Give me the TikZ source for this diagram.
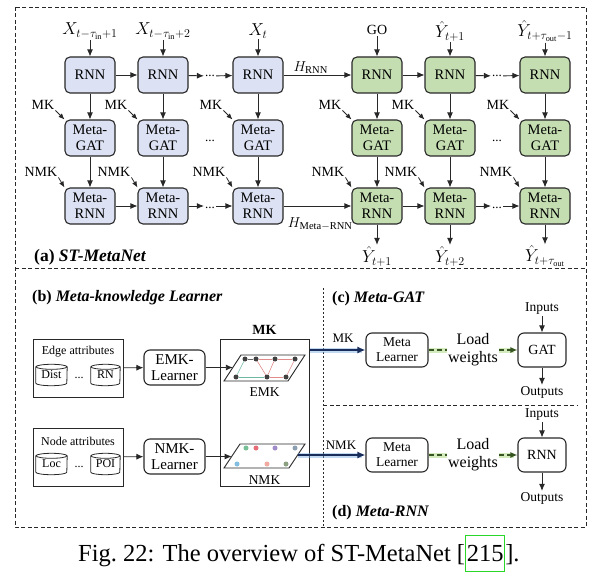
\documentclass[tikz,border=0pt]{standalone}
\usepackage{fontspec}
\setmainfont{Liberation Serif}
\usetikzlibrary{arrows.meta,calc,positioning}
\definecolor{blfill}{RGB}{220,226,243}
\definecolor{grfill}{RGB}{196,222,178}
\definecolor{bord}{RGB}{40,40,40}
\definecolor{navy}{RGB}{25,45,90}
\definecolor{glowb}{RGB}{120,170,225}
\definecolor{glowg}{RGB}{175,218,135}
\definecolor{gdashc}{RGB}{55,85,35}
\definecolor{capgreen}{RGB}{40,215,40}
\definecolor{pinkE}{RGB}{225,140,140}
\definecolor{tealE}{RGB}{110,185,165}
\definecolor{nc1}{RGB}{120,190,150}
\definecolor{nc2}{RGB}{230,110,120}
\definecolor{nc3}{RGB}{160,140,200}
\definecolor{nc4}{RGB}{140,160,180}
\definecolor{nc5}{RGB}{130,190,225}
\definecolor{nc6}{RGB}{240,170,160}
\definecolor{nc7}{RGB}{140,160,130}
\newcommand{\fsz}[2]{\fontsize{#1}{#2}\selectfont}
\newcommand{\drawcyl}[4]{%
  \node[cyltext, minimum width=#3pt] (#1) at (#2) {#4};
  \draw[cylline] (#1.north west) -- (#1.south west)
     arc[start angle=180, end angle=360, x radius=#3pt/2, y radius=2.5pt]
     -- (#1.north east);
  \draw[cylline] (#1.north) ellipse[x radius=#3pt/2, y radius=2.5pt];
}
\begin{document}
\begin{tikzpicture}[x=1pt,y=-1pt,
  cell/.style={draw=bord, line width=1.1pt, rounded corners=5pt, minimum width=50pt,
     minimum height=36pt, inner sep=0pt, align=center, font=\fsz{14.5}{16}},
  bcell/.style={cell, fill=blfill},
  gcell/.style={cell, fill=grfill},
  arr/.style={-{Latex[length=7pt,width=6pt]}, line width=0.9pt, draw=bord},
  sarr/.style={-{Latex[length=6pt,width=5pt]}, line width=0.8pt, draw=bord},
  lbl/.style={inner sep=1pt, font=\fsz{14}{16}},
  mlbl/.style={inner sep=1pt, font=\fsz{16.5}{18}},
  dotsn/.style={inner sep=1pt, font=\fsz{13}{14}},
  ttl/.style={inner sep=0pt, font=\fsz{16}{18}},
  frame/.style={line width=0.8pt, draw=bord, dash pattern=on 4pt off 2.5pt},
  attrbox/.style={draw=bord, line width=1pt, minimum width=90pt, minimum height=58pt, inner sep=0pt},
  small/.style={inner sep=1pt, font=\fsz{12}{13}},
  cyltext/.style={inner sep=0pt, minimum height=16pt, font=\fsz{12}{13}},
  cylline/.style={draw=bord, line width=0.8pt},
  lrn/.style={draw=bord, line width=1.1pt, rounded corners=6pt, minimum width=61pt,
     minimum height=35pt, inner sep=0pt, align=center, font=\fsz{15}{16}},
  mlb/.style={draw=bord, line width=1.1pt, rounded corners=6pt, minimum width=62pt,
     minimum height=34pt, inner sep=0pt, align=center, font=\fsz{13.5}{15}},
  cell2/.style={draw=bord, line width=1.1pt, rounded corners=6pt, minimum width=48pt,
     minimum height=34pt, inner sep=0pt, font=\fsz{14}{15}},
  lw/.style={inner sep=1pt, align=center, font=\fsz{16}{18}},
  io/.style={inner sep=1pt, font=\fsz{13.5}{15}},
  glowline/.style={line width=5pt, draw=glowb, opacity=0.45, shorten >=3pt},
  bluearr/.style={line width=1.6pt, draw=navy, -{Latex[length=8pt,width=7pt]}},
  gglow/.style={line width=5pt, draw=glowg, opacity=0.55},
  gdashl/.style={line width=1.3pt, draw=gdashc, dash pattern=on 5pt off 3pt},
  para/.style={draw=bord, line width=0.9pt, fill=white},
  edot/.style={circle, fill=#1, inner sep=0pt, minimum size=5pt},
  capt/.style={inner sep=0pt, font=\fsz{24.5}{26}}
]
\useasboundingbox (0,0) rectangle (600,580);

% ---------- frames ----------
\draw[frame] (15,7) rectangle (586,527);
\draw[frame] (15,268) -- (586,268);
\draw[line width=0.7pt, draw=bord, dash pattern=on 2pt off 2pt] (323,288) -- (323,527);
\draw[frame] (323,405) -- (578,405);

% ---------- (a) ST-MetaNet ----------
\node[bcell] (r1) at (90,75) {RNN};
\node[bcell] (r2) at (163,75) {RNN};
\node[bcell] (r3) at (258,75) {RNN};
\node[gcell] (r4) at (377,75) {RNN};
\node[gcell] (r5) at (450,75) {RNN};
\node[gcell] (r6) at (545,75) {RNN};
\node[bcell] (g1) at (90,138) {Meta-\\GAT};
\node[bcell] (g2) at (163,138) {Meta-\\GAT};
\node[bcell] (g3) at (258,138) {Meta-\\GAT};
\node[gcell] (g4) at (377,138) {Meta-\\GAT};
\node[gcell] (g5) at (450,138) {Meta-\\GAT};
\node[gcell] (g6) at (545,138) {Meta-\\GAT};
\node[bcell] (m1) at (90,206) {Meta-\\RNN};
\node[bcell] (m2) at (163,206) {Meta-\\RNN};
\node[bcell] (m3) at (258,206) {Meta-\\RNN};
\node[gcell] (m4) at (377,206) {Meta-\\RNN};
\node[gcell] (m5) at (450,206) {Meta-\\RNN};
\node[gcell] (m6) at (545,206) {Meta-\\RNN};

\node[dotsn] (d1) at (210,76) {...};
\node[dotsn] (d2) at (210,141) {...};
\node[dotsn] (d3) at (210,208) {...};
\node[dotsn] (d4) at (497,76) {...};
\node[dotsn] (d5) at (497,141) {...};
\node[dotsn] (d6) at (497,208) {...};

% inputs
\node[mlbl] (in1) at (90,31) {$X_{t-\tau_{\mathrm{in}}+1}$};
\node[mlbl] (in2) at (163,31) {$X_{t-\tau_{\mathrm{in}}+2}$};
\node[mlbl] (in3) at (258,31) {$X_{t}$};
\node[lbl] (in4) at (377,30) {GO};
\node[mlbl] (in5) at (450,31) {$\hat{Y}_{t+1}$};
\node[mlbl] (in6) at (545,31) {$\hat{Y}_{t+\tau_{\mathrm{out}}-1}$};
\foreach \i in {1,...,6} {\draw[arr] (in\i) -- (r\i);}

% outputs
\node[mlbl] (o4) at (377,256) {$\hat{Y}_{t+1}$};
\node[mlbl] (o5) at (450,256) {$\hat{Y}_{t+2}$};
\node[mlbl] (o6) at (545,256) {$\hat{Y}_{t+\tau_{\mathrm{out}}}$};
\foreach \i in {4,5,6} {\draw[arr] (m\i) -- (o\i);}

% vertical arrows
\foreach \i in {1,...,6} {
  \draw[arr] (r\i) -- (g\i);
  \draw[arr] (g\i) -- (m\i);
}
% horizontal arrows
\draw[arr] (r1) -- (r2);
\draw[arr] (r2) -- (d1);
\draw[arr] (d1) -- (r3);
\draw[arr] (r3) -- node[above, lbl, font=\fsz{15}{16}, pos=0.4] {$H_{\mathrm{RNN}}$} (r4);
\draw[arr] (r4) -- (r5);
\draw[arr] (r5) -- (d4);
\draw[arr] (d4) -- (r6);
\draw[arr] (m1) -- (m2);
\draw[arr] (m2.east) -- (d3.west |- m2.east);
\draw[arr] (d3.east |- m3.west) -- (m3.west);
\draw[arr] (m3) -- node[below=10pt, lbl, font=\fsz{15}{16}, pos=0.54] {$H_{\mathrm{Meta-RNN}}$} (m4);
\draw[arr] (m4) -- (m5);
\draw[arr] (m5.east) -- (d6.west |- m5.east);
\draw[arr] (d6.east |- m6.west) -- (m6.west);

% MK / NMK side inputs
\foreach \i in {1,...,6} {
  \node[lbl, anchor=south east] (mk\i) at ($(g\i.north west)+(-9,-9)$) {MK};
  \draw[sarr] (mk\i.south east) -- (g\i.north west);
  \node[lbl, anchor=south east] (nmk\i) at ($(m\i.north west)+(-6,-10)$) {NMK};
  \draw[sarr] (nmk\i.south east) -- (m\i.north west);
}

\node[ttl, font=\fsz{17.5}{19}, anchor=west] (ta) at (34,257) {\bfseries (a) \itshape ST-MetaNet};

% ---------- (b) Meta-knowledge Learner ----------
\node[ttl, anchor=west] (tb) at (32,298) {\bfseries (b) \itshape Meta-knowledge Learner};

\node[attrbox] (ea) at (78,368) {};
\node[small] (eat) at (78,352) {Edge attributes};
\drawcyl{cdist}{51.5,375}{31}{Dist}
\drawcyl{crn}{105.5,375}{29}{RN}
\node[small] (edots) at (79,378) {...};

\node[attrbox] (na) at (78,457) {};
\node[small] (nat) at (78,441) {Node attributes};
\drawcyl{cloc}{51.5,464}{31}{Loc}
\drawcyl{cpoi}{105.5,464}{29}{POI}
\node[small] (ndots) at (79,467) {...};

\node[lrn] (eml) at (174.5,367.5) {EMK-\\Learner};
\node[lrn] (nml) at (174.5,456.5) {NMK-\\Learner};

\node[draw=bord, line width=1pt, minimum width=89pt, minimum height=147pt, inner sep=0pt] (mkb) at (264.5,412.5) {};
\node[inner sep=1pt, font=\fsz{14}{15}\bfseries] (mkt) at (264.5,330) {MK};

% EMK graph
\draw[para] (224,381) -- (288,381) -- (305,355) -- (241,355) -- cycle;
\coordinate (emkL) at (232.8,367.5);
\node[edot=black!75] (e1) at (245,359) {};
\node[edot=black!75] (e2) at (256,359) {};
\node[edot=black!75] (e3) at (275,359) {};
\node[edot=black!75] (e4) at (295,359) {};
\node[edot=black!75] (e5) at (236,377) {};
\node[edot=black!75] (e6) at (267,377) {};
\node[edot=black!75] (e7) at (286,377) {};
\begin{scope}[line width=0.6pt]
\draw[tealE] (e1) -- (e5);
\draw[black!60] (e1) -- (e2);
\draw[pinkE] (e2) -- (e3);
\draw[pinkE] (e3) -- (e4);
\draw[pinkE] (e2) -- (e6);
\draw[pinkE] (e3) -- (e6);
\draw[tealE] (e5) -- (e6);
\draw[pinkE] (e6) -- (e7);
\draw[pinkE] (e4) -- (e7);
\end{scope}
\node[inner sep=1pt, font=\fsz{13.5}{15}] (emkt) at (264.5,392) {EMK};

% NMK points
\draw[para] (224,468) -- (289,468) -- (305,444) -- (240,444) -- cycle;
\coordinate (nmkL) at (231.7,456.5);
\coordinate (nmkR) at (297.7,455);
\node[edot=nc1] (n1) at (246,448) {};
\node[edot=nc2] (n2) at (256,448) {};
\node[edot=nc3] (n3) at (275,448) {};
\node[edot=nc4] (n4) at (295,448) {};
\node[edot=nc5] (n5) at (237,464) {};
\node[edot=nc6] (n6) at (267,464) {};
\node[edot=nc7] (n7) at (286,464) {};
\node[inner sep=1pt, font=\fsz{13.5}{15}] (nmkt) at (264.5,480) {NMK};

\draw[arr] (ea) -- (eml);
\draw[arr] (eml.east) -- (emkL);
\draw[arr] (na) -- (nml);
\draw[arr] (nml.east) -- (nmkL);

% ---------- (c) Meta-GAT ----------
\node[ttl, anchor=west] (tc) at (332,299) {\bfseries (c) \itshape Meta-GAT};
\node[mlb] (ml1) at (397,350) {Meta\\Learner};
\coordinate (mkR1) at (mkb.east |- ml1.west);
\draw[glowline] (mkR1) -- (ml1.west);
\draw[bluearr] (mkR1) -- (ml1.west);
\node[lbl, font=\fsz{13}{14}] (mkc) at (343,338) {MK};
\node[lw] (lw1) at (473,350) {Load\\weights};
\node[cell2] (gat) at (542,350) {GAT};
\draw[gglow] (ml1) -- (lw1);
\draw[gdashl] (ml1) -- (lw1);
\draw[gglow, shorten >=3pt] (lw1) -- (gat);
\draw[gdashl, -{Latex[length=7pt,width=6pt]}] (lw1) -- (gat);
\node[io] (inc) at (542,309) {Inputs};
\node[io] (outc) at (542,392) {Outputs};
\draw[arr] (inc) -- (gat);
\draw[arr] (gat) -- (outc);

% ---------- (d) Meta-RNN ----------
\node[ttl, anchor=west] (td) at (332,513) {\bfseries (d) \itshape Meta-RNN};
\node[mlb] (ml2) at (397,455) {Meta\\Learner};
\draw[glowline] (nmkR) -- (ml2.west);
\draw[bluearr] (nmkR) -- (ml2.west);
\node[lbl, font=\fsz{13}{14}] (nmkc) at (341,445) {NMK};
\node[lw] (lw2) at (473,455) {Load\\weights};
\node[cell2] (rnnd) at (542,455) {RNN};
\draw[gglow] (ml2) -- (lw2);
\draw[gdashl] (ml2) -- (lw2);
\draw[gglow, shorten >=3pt] (lw2) -- (rnnd);
\draw[gdashl, -{Latex[length=7pt,width=6pt]}] (lw2) -- (rnnd);
\node[io] (ind) at (542,415) {Inputs};
\node[io] (outd) at (542,498) {Outputs};
\draw[arr] (ind) -- (rnnd);
\draw[arr] (rnnd) -- (outd);

% ---------- caption ----------
\node[capt, anchor=base west] (capA) at (78,561) {Fig.~22: The overview of ST-MetaNet [};
\node[capt, anchor=base west, draw=capgreen, line width=1pt, inner xsep=1pt, minimum height=36pt] (capB) at (capA.base east) {215};
\node[capt, anchor=base west] (capC) at (capB.base east) {].};
\end{tikzpicture}
\end{document}
